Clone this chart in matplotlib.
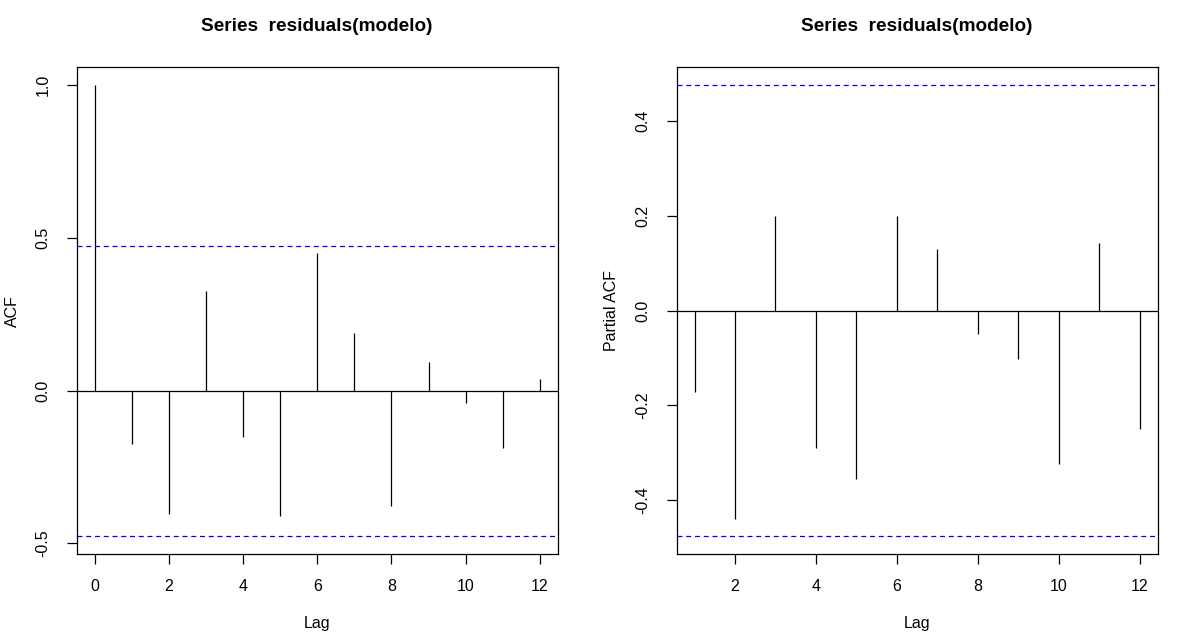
import numpy as np
import matplotlib.pyplot as plt

plt.rcParams['font.family'] = ['Liberation Sans', 'DejaVu Sans']

# valores
acf_lags = list(range(0, 13))
acf_vals = [1.0, -0.174, -0.403, 0.328, -0.151, -0.41, 0.452, 0.19, -0.377, 0.095, -0.039, -0.187, 0.039]

pacf_lags = list(range(1, 13))
pacf_vals = [-0.171, -0.44, 0.2, -0.29, -0.355, 0.2, 0.131, -0.049, -0.102, -0.324, 0.142, -0.25]

n_obs = 17
clim = 1.96 / np.sqrt(n_obs)

W, H = 1179, 644
fig = plt.figure(figsize=(W / 100, H / 100), dpi=100)


def r_lim(lo, hi):
    d = (hi - lo) * 0.04
    return lo - d, hi + d


def acf_panel(left, lags, vals, yticks, ylabel, ylab_x):
    ax = fig.add_axes([left / W, (H - 554) / H, 481 / W, (554 - 67.3) / H])
    ax.vlines(lags, 0, vals, color='black', lw=0.9)
    ax.axhline(0, color='black', lw=0.9)
    ax.axhline(clim, color='blue', lw=0.9, ls=(0, (4, 3)))
    ax.axhline(-clim, color='blue', lw=0.9, ls=(0, (4, 3)))
    ax.set_xlim(*r_lim(min(lags), max(lags)))
    ax.set_ylim(*r_lim(min(min(vals), -clim), max(max(vals), clim)))
    ax.set_xticks([l for l in range(0, 13, 2) if l >= min(lags)])
    ax.set_yticks(yticks)
    ax.set_yticklabels([f'{t:.1f}' for t in yticks], rotation=90, va='center')
    ax.tick_params(direction='out', length=7, width=0.9, labelsize=11.5, color='black')
    ax.tick_params(axis='x', pad=11)
    ax.tick_params(axis='y', pad=12)
    for s in ax.spines.values():
        s.set_linewidth(0.9)
    ax.set_xlabel('Lag', fontsize=11.5, labelpad=16)
    ax.set_ylabel(ylabel, fontsize=11.5, va='center')
    ax.yaxis.set_label_coords((ylab_x - left) / 481, 0.5)
    ax.set_title('Series  residuals(modelo)', fontsize=13.7, fontweight='bold', pad=26)
    return ax


acf_panel(76.7, acf_lags, acf_vals, [-0.5, 0.0, 0.5, 1.0], 'ACF', 12)
acf_panel(676.7, pacf_lags, pacf_vals, [-0.4, -0.2, 0.0, 0.2, 0.4], 'Partial ACF', 611)

fig.savefig('out.png', dpi=100)
